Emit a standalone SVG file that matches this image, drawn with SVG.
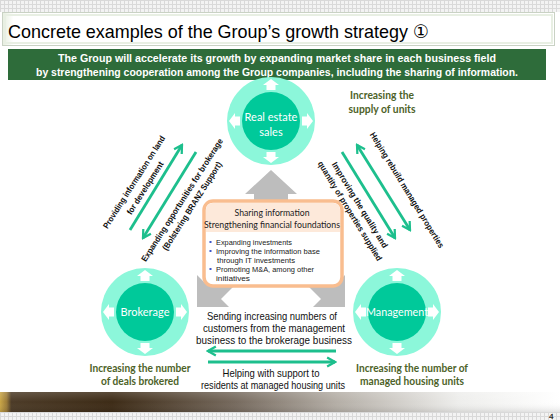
<svg xmlns="http://www.w3.org/2000/svg" width="560" height="420" viewBox="0 0 560 420">
<defs>
<style>
.sans{font-family:"Liberation Sans","DejaVu Sans",sans-serif;}
.cal{font-family:"Lato","Open Sans",sans-serif;}
.ring{fill:#8cf7da;}
.core{fill:#00c99a;}
.wa{fill:#ffffff;}
.gray{fill:#bdbdbd;}
.gl{stroke:#1dbf8d;stroke-width:2.8;fill:none;}
.olive{fill:#4d6228;font-size:10.5px;text-anchor:middle;font-weight:bold;}
.blk{fill:#111;font-size:10.5px;text-anchor:middle;}
.rot{fill:#111;font-size:8.5px;text-anchor:middle;font-weight:bold;}
.bul{fill:#222;font-size:8px;}
.sq{fill:#4058c8;}
.lbl{fill:#fff;font-size:11px;text-anchor:middle;}
</style>
<pattern id="grid" width="4" height="4" patternUnits="userSpaceOnUse">
<rect width="4" height="4" fill="#f3f3f3"/>
<path d="M0,0.5H4M0.5,0V4" stroke="#d9d9d9" stroke-width="1"/>
</pattern>
<linearGradient id="band" x1="0" y1="0" x2="1" y2="0">
<stop offset="0" stop-color="#c9a545"/>
<stop offset="0.012" stop-color="#9a7a38"/>
<stop offset="0.02" stop-color="#4c3b27"/>
<stop offset="0.2" stop-color="#3d2b16"/>
<stop offset="0.42" stop-color="#766a5e"/>
<stop offset="0.6" stop-color="#b4aea6"/>
<stop offset="0.82" stop-color="#eeeeec"/>
<stop offset="1" stop-color="#ffffff"/>
</linearGradient>
<linearGradient id="bandv" x1="0" y1="0" x2="0" y2="1">
<stop offset="0" stop-color="#ffffff" stop-opacity="0.15"/>
<stop offset="0.5" stop-color="#ffffff" stop-opacity="0"/>
<stop offset="1" stop-color="#000000" stop-opacity="0.1"/>
</linearGradient>
<linearGradient id="tbox" x1="0" y1="0" x2="1" y2="0">
<stop offset="0" stop-color="#e6eedf"/>
<stop offset="0.02" stop-color="#ffffff"/>
<stop offset="1" stop-color="#ffffff"/>
</linearGradient>
<marker id="ah" viewBox="0 0 10 10" refX="8.5" refY="5" markerWidth="4" markerHeight="4" orient="auto-start-reverse">
<path d="M1.5,1 L8.5,5 L1.5,9" fill="none" stroke="#1dbf8d" stroke-width="2"/>
</marker>
<g id="ringarrows">
<path class="wa" d="M0,-42 L8,-36 L4.5,-36 L4.5,-31 L-4.5,-31 L-4.5,-36 L-8,-36 Z"/>
<path class="wa" d="M0,42 L8,36 L4.5,36 L4.5,31 L-4.5,31 L-4.5,36 L-8,36 Z"/>
<path class="wa" d="M-42,0 L-36,8 L-36,4.5 L-31,4.5 L-31,-4.5 L-36,-4.5 L-36,-8 Z"/>
<path class="wa" d="M42,0 L36,8 L36,4.5 L31,4.5 L31,-4.5 L36,-4.5 L36,-8 Z"/>
</g>
</defs>

<rect width="560" height="420" fill="#ffffff"/>
<g id="frame">
<rect x="0" y="0" width="560" height="12" fill="url(#grid)"/>
<rect x="0" y="412" width="560" height="8" fill="url(#grid)"/>
<rect x="0" y="392" width="560" height="20" fill="url(#band)"/>
<rect x="0" y="392" width="560" height="20" fill="url(#bandv)"/>
<text x="549" y="419" class="sans" font-size="8" font-weight="bold" fill="#333">4</text>
</g>

<g id="title">
<rect x="2.5" y="12.5" width="552" height="33" fill="url(#tbox)" stroke="#c9d2c4" stroke-width="1"/>
<rect x="5" y="15" width="547" height="28" fill="none" stroke="#e8efe3" stroke-width="2"/>
<text x="8" y="38" class="sans" font-size="18.5" fill="#000" textLength="421" lengthAdjust="spacingAndGlyphs">Concrete examples of the Group’s growth strategy ①</text>
</g>

<g id="subtitle">
<rect x="8" y="49" width="538" height="31" fill="#2e6c3a"/>
<text x="277" y="62" class="sans" font-size="11" font-weight="bold" fill="#fff" text-anchor="middle" textLength="438" lengthAdjust="spacingAndGlyphs">The Group will accelerate its growth by expanding market share in each business field</text>
<text x="277" y="76" class="sans" font-size="11" font-weight="bold" fill="#fff" text-anchor="middle" textLength="482" lengthAdjust="spacingAndGlyphs">by strengthening cooperation among the Group companies, including the sharing of information.</text>
</g>

<g id="connectors">
<path class="gray" d="M271,170 L297,194 L288,194 L288,206 L254,206 L254,194 L245,194 Z"/>
<path class="gray" d="M197,307 L197,275 L205,283 L226,262 L242,278 L221,299 L229,307 Z"/>
<path class="gray" d="M345,307 L345,275 L337,283 L316,262 L300,278 L321,299 L313,307 Z"/>
<line class="gl" x1="130" y1="230" x2="182" y2="145" marker-end="url(#ah)"/>
<line class="gl" x1="196" y1="152" x2="143" y2="238" marker-end="url(#ah)"/>
<line class="gl" x1="342" y1="152" x2="395" y2="238" marker-end="url(#ah)"/>
<line class="gl" x1="410" y1="230" x2="357" y2="145" marker-end="url(#ah)" marker-start="url(#ah)"/>
<line class="gl" x1="336" y1="351" x2="208" y2="351" marker-end="url(#ah)"/>
<line class="gl" x1="208" y1="362" x2="335" y2="362" marker-end="url(#ah)"/>
</g>

<g id="connector-labels" class="sans">
<text class="rot" transform="translate(134,182) rotate(-57.5)" y="3" textLength="108" lengthAdjust="spacingAndGlyphs">Providing information on land</text>
<text class="rot" transform="translate(145,188) rotate(-57.5)" y="3" textLength="61" lengthAdjust="spacingAndGlyphs">for development</text>
<text class="rot" transform="translate(182,200) rotate(-57.5)" y="3" textLength="144" lengthAdjust="spacingAndGlyphs">Expanding opportunities for brokerage</text>
<text class="rot" transform="translate(192,206) rotate(-57.5)" y="3" textLength="103" lengthAdjust="spacingAndGlyphs">(Bolstering BRANZ Support)</text>
<text class="rot" transform="translate(360,205) rotate(58.5)" y="3" textLength="99" lengthAdjust="spacingAndGlyphs">Improving the quality and</text>
<text class="rot" transform="translate(350,211) rotate(58.5)" y="3" textLength="115" lengthAdjust="spacingAndGlyphs">quantity of properties supplied</text>
<text class="rot" transform="translate(407,190) rotate(58.5)" y="3" textLength="134" lengthAdjust="spacingAndGlyphs">Helping rebuild managed properties</text>
<text class="blk" x="272" y="320" textLength="130" lengthAdjust="spacingAndGlyphs">Sending increasing numbers of</text>
<text class="blk" x="274" y="332" textLength="142" lengthAdjust="spacingAndGlyphs">customers from the management</text>
<text class="blk" x="274" y="344" textLength="156" lengthAdjust="spacingAndGlyphs">business to the brokerage business</text>
<text class="blk" x="271" y="377" font-size="9.5" textLength="97" lengthAdjust="spacingAndGlyphs">Helping with support  to</text>
<text class="blk" x="273" y="389" font-size="9.5" textLength="144" lengthAdjust="spacingAndGlyphs">residents at managed housing units</text>
</g>

<g id="real-estate-sales">
<circle class="ring" cx="271" cy="121" r="44"/>
<circle class="core" cx="271" cy="121" r="29"/>
<use href="#ringarrows" transform="translate(271,121)"/>
<text class="lbl cal" x="271" y="121">Real estate</text>
<text class="lbl cal" x="271" y="136">sales</text>
<text class="olive cal" x="382" y="99" textLength="64" lengthAdjust="spacingAndGlyphs">Increasing the</text>
<text class="olive cal" x="382" y="113" textLength="67" lengthAdjust="spacingAndGlyphs">supply of units</text>
</g>

<g id="brokerage">
<circle class="ring" cx="145" cy="312" r="44"/>
<circle class="core" cx="145" cy="312" r="29"/>
<use href="#ringarrows" transform="translate(145,312)"/>
<text class="lbl cal" x="145" y="316">Brokerage</text>
<text class="olive cal" x="140" y="372" textLength="101" lengthAdjust="spacingAndGlyphs">Increasing the number</text>
<text class="olive cal" x="140" y="385" textLength="78" lengthAdjust="spacingAndGlyphs">of deals brokered</text>
</g>

<g id="management">
<circle class="ring" cx="397" cy="312" r="44"/>
<circle class="core" cx="397" cy="312" r="29"/>
<use href="#ringarrows" transform="translate(397,312)"/>
<text class="lbl cal" x="397" y="316" textLength="62" lengthAdjust="spacingAndGlyphs">Management</text>
<text class="olive cal" x="412" y="372" textLength="112" lengthAdjust="spacingAndGlyphs">Increasing the number of</text>
<text class="olive cal" x="412" y="385" textLength="104" lengthAdjust="spacingAndGlyphs">managed housing units</text>
</g>

<g id="sharing-box">
<rect x="204" y="201" width="138" height="85" rx="9" fill="#ffffff" stroke="#f9bd8f" stroke-width="3.5"/>
<path d="M206,232 V210 Q206,203 213,203 H333 Q340,203 340,210 V232 Z" fill="#fde9da"/>
<text class="cal" x="272" y="216" font-size="9.5" fill="#222" text-anchor="middle" textLength="75" lengthAdjust="spacingAndGlyphs">Sharing information</text>
<text class="cal" x="272" y="228" font-size="9.5" fill="#222" text-anchor="middle" textLength="136" lengthAdjust="spacingAndGlyphs">Strengthening financial foundations</text>
<g class="sans">
<rect class="sq" x="209.5" y="241" width="2" height="2"/>
<rect class="sq" x="209.5" y="250" width="2" height="2"/>
<rect class="sq" x="209.5" y="268" width="2" height="2"/>
<text class="bul" x="216" y="245" textLength="76" lengthAdjust="spacingAndGlyphs">Expanding investments</text>
<text class="bul" x="216" y="254" textLength="104" lengthAdjust="spacingAndGlyphs">Improving the information base</text>
<text class="bul" x="217" y="263" textLength="78" lengthAdjust="spacingAndGlyphs">through IT investments</text>
<text class="bul" x="216" y="272" textLength="98" lengthAdjust="spacingAndGlyphs">Promoting M&amp;A, among other</text>
<text class="bul" x="216" y="281" textLength="34" lengthAdjust="spacingAndGlyphs">initiatives</text>
</g>
</g>
</svg>
